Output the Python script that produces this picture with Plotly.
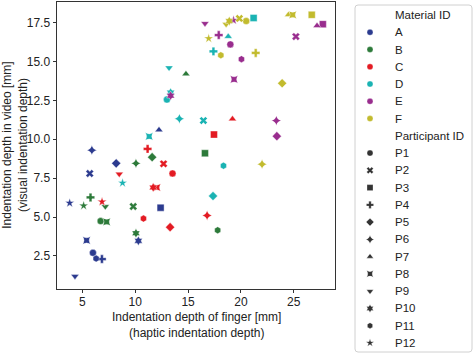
import plotly.graph_objects as go

# ---------------- data ----------------
materials = ["A", "B", "C", "D", "E", "F"]
participants = ["P1", "P2", "P3", "P4", "P5", "P6", "P7", "P8", "P9", "P10", "P11", "P12"]

# haptic (finger) depth, per participant P1..P12
haptic_A = [6.0, 5.7, 12.4, 6.85, 8.2, 5.9, 12.25, 5.4, 4.3, 10.3, 6.3, 3.8]
haptic_B = [6.73, 9.81, 16.6, 5.77, 11.6, 10.07, 14.8, 7.3, 7.17, 10.07, 17.8, 5.12]
haptic_C = [13.53, 12.68, 17.45, 11.17, 13.3, 16.8, 19.2, 12.05, 8.49, 11.7, 10.78, 6.86]
haptic_D = [13.0, 16.45, 21.2, 17.4, 17.36, 14.18, 18.8, 11.32, 13.2, 13.35, 18.35, 8.8]
haptic_E = [19.0, 25.2, 27.75, 17.9, 23.4, 23.35, 27.2, 19.35, 16.6, 13.35, 20.05, 19.3]
haptic_F = [20.5, 19.85, 26.7, 21.4, 23.9, 22.0, 24.5, 24.9, 18.6, 18.9, 18.1, 16.95]

# visual (video) depth, per participant P1..P12
visual_A = [2.7, 7.8, 5.6, 2.3, 8.45, 9.3, 10.6, 3.5, 1.2, 3.47, 2.33, 5.9]
visual_B = [4.74, 5.68, 9.1, 6.26, 8.85, 8.45, 14.2, 4.69, 5.68, 3.96, 4.15, 5.73]
visual_C = [7.8, 8.42, 10.3, 9.38, 4.35, 5.1, 11.3, 6.9, 7.77, 6.9, 4.9, 5.98]
visual_D = [12.55, 11.2, 17.8, 15.65, 6.35, 11.32, 16.6, 10.18, 14.6, 13.0, 8.3, 7.19]
visual_E = [16.1, 16.6, 17.4, 16.7, 10.2, 11.2, 17.3, 13.85, 17.45, 12.8, 15.15, 17.65]
visual_F = [17.6, 17.77, 18.0, 15.55, 13.6, 8.4, 18.0, 18.0, 17.4, 17.6, 15.4, 16.48]

x_ticks = [5, 10, 15, 20, 25]
y_ticks = [2.5, 5.0, 7.5, 10.0, 12.5, 15.0, 17.5]

x_title = "Indentation depth of finger [mm]<br>(haptic indentation depth)"
y_title = "Indentation depth in video [mm]<br>(visual indentation depth)"

# ---------------- style ----------------
colors = ["#2c3b8f", "#2d7a3a", "#e31b23", "#1ab3b3", "#992d8e", "#c2bb2e"]
symbols = ["circle", "x", "square", "cross", "diamond", "star-diamond",
           "triangle-up", "star-square", "triangle-down", "hexagram", "hexagon", "star"]
FONT = "Liberation Sans, Arial, sans-serif"
W, H = 474, 357

haptic = [haptic_A, haptic_B, haptic_C, haptic_D, haptic_E, haptic_F]
visual = [visual_A, visual_B, visual_C, visual_D, visual_E, visual_F]

fig = go.Figure()
for m, hx, vy, c in zip(materials, haptic, visual, colors):
    fig.add_trace(go.Scatter(
        x=hx, y=vy, mode="markers", name=m, showlegend=False,
        text=participants,
        marker=dict(color=c, symbol=symbols, size=7,
                    line=dict(color="white", width=0.4)),
        xaxis="x", yaxis="y"))

# ---------------- custom legend (hidden axes x2/y2) ----------------
entries = (["Material ID"] + materials + ["Participant ID"] + participants)
leg_sym = [None] + ["circle"] * len(materials) + [None] + symbols
leg_col = [None] + colors + [None] + ["#333333"] * len(participants)
idx_m = [i for i, s in enumerate(leg_sym) if s is not None]
fig.add_trace(go.Scatter(
    x=[0] * len(idx_m), y=idx_m, mode="markers", showlegend=False,
    hoverinfo="skip",
    marker=dict(symbol=[leg_sym[i] for i in idx_m],
                color=[leg_col[i] for i in idx_m], size=6,
                line=dict(color="white", width=0.3)),
    xaxis="x2", yaxis="y2"))

annotations = []
for i, name in enumerate(entries):
    annotations.append(dict(
        x=24, y=i, xref="x2", yref="y2", text=name, showarrow=False,
        xanchor="left", yanchor="middle", borderpad=0,
        font=dict(family=FONT, size=11.5, color="#222222")))

x0p, x1p = 57, 335
y0p, y1p = 1.6, 288.9
lx0, lx1, ly0, ly1 = 355, 472, 5, 352

# axis titles as annotations (paper coords; margins are zero)
annotations.append(dict(
    x=(x0p + x1p) / 2 / W, y=1 - 308.5 / H, xref="paper", yref="paper",
    text=x_title, showarrow=False, xanchor="center", yanchor="top", borderpad=0,
    font=dict(family=FONT, size=12, color="#222222")))
annotations.append(dict(
    x=15.5 / W, y=1 - (y0p + y1p) / 2 / H, xref="paper", yref="paper",
    text=y_title, showarrow=False, textangle=-90, borderpad=0,
    xanchor="center", yanchor="middle",
    font=dict(family=FONT, size=12, color="#222222")))

# rounded legend frame
r = 3.0
def px(xp):
    return xp / W
def py(yp):
    return 1 - yp / H
path = (f"M {px(lx0 + r)},{py(ly0)} L {px(lx1 - r)},{py(ly0)} "
        f"Q {px(lx1)},{py(ly0)} {px(lx1)},{py(ly0 + r)} "
        f"L {px(lx1)},{py(ly1 - r)} Q {px(lx1)},{py(ly1)} {px(lx1 - r)},{py(ly1)} "
        f"L {px(lx0 + r)},{py(ly1)} Q {px(lx0)},{py(ly1)} {px(lx0)},{py(ly1 - r)} "
        f"L {px(lx0)},{py(ly0 + r)} Q {px(lx0)},{py(ly0)} {px(lx0 + r)},{py(ly0)} Z")

fig.update_layout(
    width=W, height=H,
    margin=dict(l=0, r=0, t=0, b=0),
    paper_bgcolor="white", plot_bgcolor="white",
    font=dict(family=FONT, size=12, color="#222222"),
    showlegend=False,
    xaxis=dict(
        domain=[x0p / W, x1p / W], range=[2.6, 28.9],
        tickvals=x_ticks, ticktext=[str(v) for v in x_ticks],
        showgrid=False, zeroline=False,
        showline=True, mirror=True, linecolor="#333333", linewidth=1,
        ticks="outside", ticklen=3.5, tickcolor="#333333",
        tickfont=dict(size=12), ticklabelstandoff=-2,
        anchor="y"),
    yaxis=dict(
        domain=[1 - y1p / H, 1 - y0p / H], range=[0.38, 18.85],
        tickvals=y_ticks, ticktext=[f"{v:.1f}" for v in y_ticks],
        showgrid=False, zeroline=False,
        showline=True, mirror=True, linecolor="#333333", linewidth=1,
        ticks="outside", ticklen=3.5, tickcolor="#333333",
        tickfont=dict(size=12),
        anchor="x"),
    xaxis2=dict(domain=[lx0 / W, lx1 / W], range=[-15, 102], visible=False,
                fixedrange=True, anchor="y2"),
    yaxis2=dict(domain=[1 - ly1 / H, 1 - ly0 / H],
                range=[(ly1 - ly0 - 10) / 17.26, -10 / 17.26],
                visible=False, fixedrange=True, anchor="x2"),
    annotations=annotations,
    shapes=[dict(type="path", xref="paper", yref="paper", path=path,
                 line=dict(color="#d0d0d0", width=1), fillcolor="rgba(0,0,0,0)",
                 layer="below")],
)

fig.write_html("out.html", config={"displayModeBar": False},
               post_script="document.body.style.margin='0';document.body.style.overflow='hidden';")
